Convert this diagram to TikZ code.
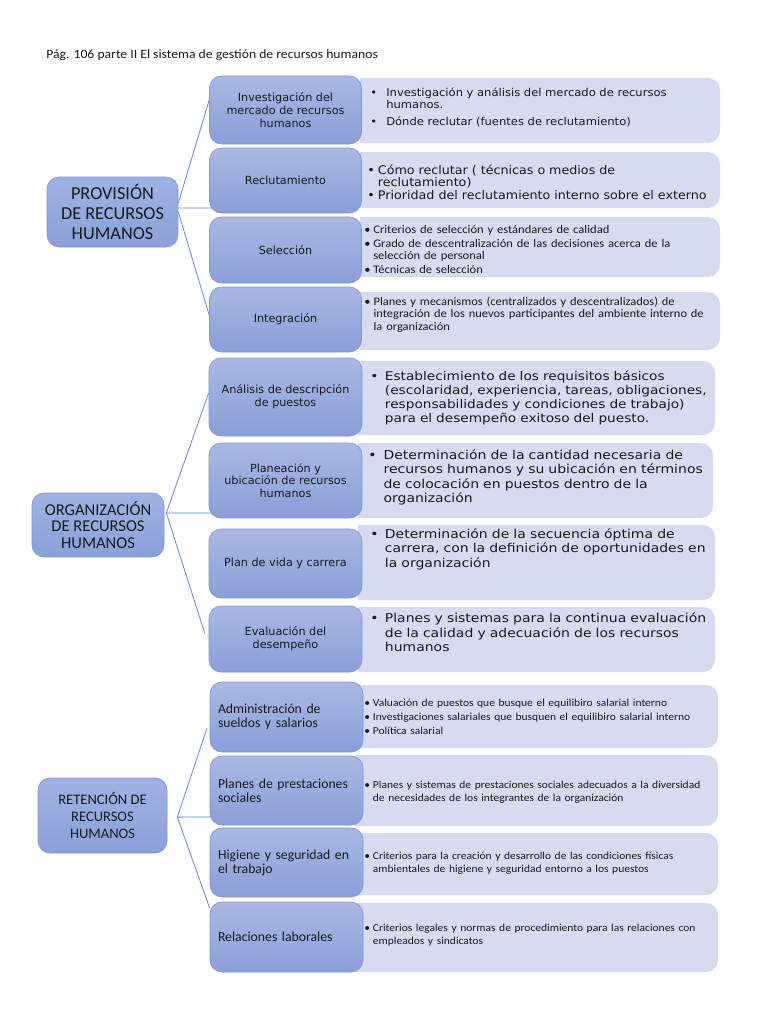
\documentclass[tikz,border=0pt]{standalone}
\usepackage{fontspec}
\setmainfont{Carlito}
\newfontfamily\dv{DejaVu Sans}
\newfontfamily\cw{Carlito}[FakeStretch=1.08]
\newfontfamily\dvw{DejaVu Sans}[FakeStretch=1.07]
\newfontfamily\dvx{DejaVu Sans}[FakeStretch=1.14]
\usetikzlibrary{backgrounds}
\definecolor{subtop}{HTML}{AAB8E3}
\definecolor{subbot}{HTML}{8A9ED8}
\definecolor{maintop}{HTML}{9FB2E2}
\definecolor{mainbot}{HTML}{8AA0D9}
\definecolor{edgec}{HTML}{8196D2}
\definecolor{boxc}{HTML}{D6DBEF}
\definecolor{linec}{HTML}{6488D8}
\definecolor{txt}{HTML}{1A1A1A}
\newcommand\bitem[2]{\par\noindent\hangindent=#1\hangafter=1\makebox[#1][l]{\textbullet}#2\par}
\newcommand\tbox[4]{\fill[boxc] (#1,#3) -- ({#2-12},#3) arc[start angle=90,end angle=0,radius=9pt] -- (#2,{#4-12}) arc[start angle=0,end angle=-90,radius=9pt] -- (#1,#4) -- cycle;}
\tikzset{
  mainbox/.style={draw=edgec, line width=0.5pt, rounded corners=9pt, top color=maintop, bottom color=mainbot, align=center, text=txt, inner sep=0pt},
  subbox/.style={draw=edgec, line width=0.5pt, rounded corners=9pt, top color=subtop, bottom color=subbot, align=center, text=txt, inner sep=0pt, minimum width=114pt},
  subA/.style={subbox, font={\dv\fontsize{8.4}{9.5}\selectfont}},
  subB/.style={subbox, font={\fontsize{10.3}{10.6}\selectfont}, align=left, text width=102.75pt, inner xsep=6pt},
  btext/.style={anchor=west, inner sep=0pt, text=txt, align=left, text width=270pt},
  conn/.style={draw=linec, line width=0.6pt}
}
\begin{document}
\begin{tikzpicture}[x=0.75pt,y=-0.75pt]
\useasboundingbox (0,0) rectangle (768,1024);
\node[anchor=west, inner sep=0pt, font={\cw\fontsize{9.5}{11}\selectfont}, text=txt] (title) at (46,55) {Pág. 106 parte II El sistema de gestión de recursos humanos};

% ---------- text boxes ----------
\tbox{360}{720}{78}{143}
\tbox{360}{720}{152}{208}
\tbox{360}{720}{217}{277}
\tbox{360}{720}{292}{350}
\tbox{358}{715}{361}{435}
\tbox{358}{713}{443}{518}
\tbox{358}{715}{525}{600}
\tbox{358}{715}{607}{672}
\tbox{355}{718}{685}{748}
\tbox{355}{718}{755}{826}
\tbox{355}{718}{833}{895}
\tbox{355}{718}{903}{972}

% ---------- section 1 ----------
\node[mainbox, minimum width=98.25pt, minimum height=52.5pt, font={\fontsize{13.7}{15}\selectfont}] (prov) at (112.5,212) {PROVISIÓN\\DE RECURSOS\\HUMANOS};
\node[subA, minimum height=51pt] (inv) at (285.5,110) {Investigación del\\mercado de recursos\\humanos};
\node[subA, minimum height=48.75pt] (rec) at (285.5,180.5) {Reclutamiento};
\node[subA, minimum height=49.5pt] (sel) at (285.5,250) {Selección};
\node[subA, minimum height=48.75pt] (int) at (285.5,319.5) {Integración};

\node[btext, font={\dvw\fontsize{8.1}{8.6}\selectfont}] (t1) at (370,103) {\setlength\parskip{4.3pt}\bitem{12pt}{Investigación y análisis del mercado de recursos\newline humanos.}\bitem{12pt}{Dónde reclutar (fuentes de reclutamiento)}};
\node[btext, font={\dvw\fontsize{8.9}{9.4}\selectfont}] (t2) at (367,180.5) {\bitem{8pt}{Cómo reclutar ( técnicas o medios de\newline reclutamiento)}\bitem{8pt}{Prioridad del reclutamiento interno sobre el externo}};
\node[btext, font={\cw\fontsize{8.7}{9}\selectfont}] (t3) at (364,247) {\setlength\parskip{1.5pt}\bitem{6.8pt}{Criterios de selección y estándares de calidad}\bitem{6.8pt}{Grado de descentralización de las decisiones acerca de la\newline selección de personal}\bitem{6.8pt}{Técnicas de selección}};
\node[btext, font={\cw\fontsize{8.65}{9.4}\selectfont}] (t4) at (364,312.5) {\bitem{7pt}{Planes y mecanismos (centralizados y descentralizados) de\newline integración de los nuevos participantes del ambiente interno de\newline la organización}};

% ---------- section 2 ----------
\node[mainbox, minimum width=99pt, minimum height=48pt, font={\fontsize{12.4}{12.4}\selectfont}] (org) at (98,525) {ORGANIZACIÓN\\DE RECURSOS\\HUMANOS};
\node[subA, minimum height=58.5pt, minimum width=114.75pt] (ana) at (285.5,397) {Análisis de descripción\\de puestos};
\node[subA, minimum height=56.25pt, minimum width=114.75pt] (pla) at (285.5,480.5) {Planeación y\\ubicación de recursos\\humanos};
\node[subA, minimum height=51.75pt, minimum width=114.75pt] (vid) at (285.5,563.5) {Plan de vida y carrera};
\node[subA, minimum height=49.5pt, minimum width=114.75pt] (eva) at (285.5,639) {Evaluación del\\desempeño};

\node[btext, font={\dvx\fontsize{9}{10.5}\selectfont}] (t5) at (370,396) {\bitem{11pt}{Establecimiento de los requisitos básicos\newline (escolaridad, experiencia, tareas, obligaciones,\newline responsabilidades y condiciones de trabajo)\newline para el desempeño exitoso del puesto.}};
\node[btext, font={\dvx\fontsize{9.2}{10.9}\selectfont}] (t6) at (368,475) {\bitem{11.5pt}{Determinación de la cantidad necesaria de\newline recursos humanos y su ubicación en términos\newline de colocación en puestos dentro de la\newline organización}};
\node[btext, font={\dvx\fontsize{9.2}{10.7}\selectfont}] (t7) at (370,547) {\bitem{11pt}{Determinación de la secuencia óptima de\newline carrera, con la definición de oportunidades en\newline la organización}};
\node[btext, font={\dvx\fontsize{9.2}{11}\selectfont}] (t8) at (370,630) {\bitem{11pt}{Planes y sistemas para la continua evaluación\newline de la calidad y adecuación de los recursos\newline humanos}};

% ---------- section 3 ----------
\node[mainbox, minimum width=96.75pt, minimum height=56.25pt, font={\fontsize{10.9}{13}\selectfont}] (ret) at (102.5,815.5) {RETENCIÓN DE\\RECURSOS\\HUMANOS};
\node[subB, minimum height=52.5pt] (adm) at (286.5,717) {Administración de\\sueldos y salarios};
\node[subB, minimum height=51.75pt] (pre) at (286.5,790.5) {Planes de prestaciones\\sociales};
\node[subB, minimum height=51.75pt] (hig) at (286.5,862.5) {Higiene y seguridad en\\el trabajo};
\node[subB, minimum height=52.5pt] (rel) at (286.5,937) {Relaciones laborales};

\node[btext, font={\cw\fontsize{8}{9.75}\selectfont}] (t9) at (364,714) {\setlength\parskip{0.75pt}\bitem{6.5pt}{Valuación de puestos que busque el equilibiro salarial interno}\bitem{6.5pt}{Investigaciones salariales que busquen el equilibiro salarial interno}\bitem{6.5pt}{Política salarial}};
\node[btext, font={\cw\fontsize{8}{9.75}\selectfont}] (t10) at (364,789) {\bitem{6.5pt}{Planes y sistemas de prestaciones sociales adecuados a la diversidad\newline de necesidades de los integrantes de la organización}};
\node[btext, font={\cw\fontsize{8}{9.75}\selectfont}] (t11) at (364,860) {\bitem{6.5pt}{Criterios para la creación y desarrollo de las condiciones físicas\newline ambientales de higiene y seguridad entorno a los puestos}};
\node[btext, font={\cw\fontsize{8}{9.75}\selectfont}] (t12) at (364,932.5) {\bitem{6.5pt}{Criterios legales y normas de procedimiento para las relaciones con\newline empleados y sindicatos}};

% ---------- connectors ----------
\begin{pgfonlayer}{background}
\fill[white] (0,0) rectangle (768,1024);
\draw[conn] ([yshift=6.75pt]prov.east) -- ([yshift=7.5pt]inv.west);
\draw[conn] ([yshift=3pt]prov.east) -- ([yshift=-20.6pt,xshift=3pt]rec.west);
\draw[conn] (prov.east) -- ([yshift=3.4pt]int.west);
\draw[conn] ([yshift=9pt,xshift=1.5pt]org.east) -- ([yshift=3pt]ana.west);
\draw[conn] ([yshift=9pt,xshift=1.5pt]org.east) -- ([yshift=-24.4pt,xshift=3pt]pla.west);
\draw[conn] ([yshift=9pt,xshift=1.5pt]org.east) -- ([yshift=4.5pt,xshift=-3pt]eva.west);
\draw[conn] ([yshift=-1.2pt,xshift=7.5pt]ret.east) -- ([yshift=-8.25pt,xshift=-2pt]adm.west);
\draw[conn] ([yshift=-1.2pt,xshift=7.5pt]ret.east) -- ([yshift=-19.9pt,xshift=3pt]pre.west);
\draw[conn] ([yshift=-1.2pt,xshift=7.5pt]ret.east) -- ([yshift=21.75pt]rel.west);
\end{pgfonlayer}
\end{tikzpicture}
\end{document}
